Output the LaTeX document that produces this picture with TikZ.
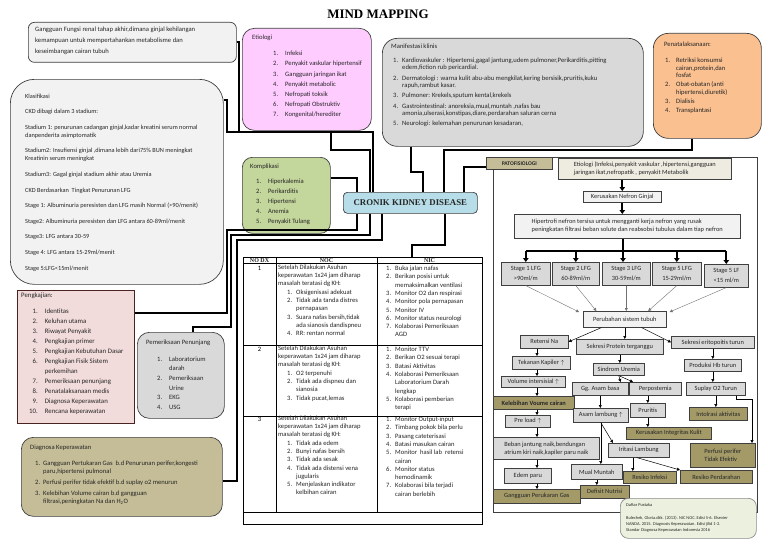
\documentclass[tikz,border=0pt]{standalone}
\usepackage{fontspec}
\setmainfont{Carlito}
\newfontfamily\headfont{Liberation Serif}
\usetikzlibrary{arrows.meta,calc}
\definecolor{ink}{HTML}{262626}
\definecolor{edge}{HTML}{3F3F3F}
\definecolor{lgray}{HTML}{F2F2F2}
\definecolor{mgray}{HTML}{D9D9D9}
\definecolor{pinkbg}{HTML}{F2DCDB}
\definecolor{pinkedge}{HTML}{4A2222}
\definecolor{etpink}{HTML}{FFCCFF}
\definecolor{kgreen}{HTML}{C3D69B}
\definecolor{ckdblue}{HTML}{B7DEE8}
\definecolor{orangebg}{HTML}{FAC090}
\definecolor{khaki}{HTML}{C4BD97}
\definecolor{olive}{HTML}{A39A68}
\definecolor{beige}{HTML}{EEECE1}
\definecolor{dpgreen}{HTML}{EBF1DE}
\newcommand{\itemlist}[2][7pt]{\begin{tabular}[t]{@{}r@{\hspace{#1}}l@{}}#2\end{tabular}}

\begin{document}
\begin{tikzpicture}[x=1pt,y=-1pt,
  box/.style={draw=edge,line width=0.7pt,inner sep=0pt,anchor=north west},
  txt/.style={anchor=north west,align=left,inner sep=0pt,text=ink},
  pbox/.style={draw=edge,line width=0.6pt,fill=mgray,inner sep=1pt,anchor=north west,
               align=center,text=ink,font=\fontsize{6.4}{8}\selectfont},
  obox/.style={pbox,fill=olive},
  head/.style={font=\headfont\bfseries\fontsize{6}{6}\selectfont,text=ink},
  link/.style={line width=1.1pt,black},
  ar/.style={-{Triangle[length=3pt,width=3pt]},line width=0.5pt,black},
  fat/.style={-{Triangle[length=4pt,width=5.5pt]},line width=2pt,black},
  thinar/.style={-{Triangle[length=3pt,width=3pt]},line width=0.4pt,black!55}
]
\fill[white] (0,0) rectangle (768,543);
\useasboundingbox (0,0) rectangle (768,543);

\node[font=\headfont\bfseries\fontsize{13}{13}\selectfont] (title) at (378,14) {MIND MAPPING};

% left column
\node[box,fill=lgray,rounded corners=6pt,minimum width=208,minimum height=40] (defn) at (28,22) {};
\node[txt,font=\fontsize{6.6}{11}\selectfont] (defn-t) at (35,26.5)
  {Gangguan Fungsi renal tahap akhir,dimana ginjal kehilangan\\
   kemampuan untuk mempertahankan metabolisme dan\\
   keseimbangan cairan tubuh};

\node[box,fill=lgray,rounded corners=24pt,minimum width=213,minimum height=205] (klas) at (10,79) {};
\node[txt,font=\fontsize{6.3}{8}\selectfont] (klas-t) at (25,93.5)
  {Klasifikasi\\[7.6pt]
   CKD dibagi dalam 3 stadium:\\[7.6pt]
   Stadium 1: penurunan cadangan ginjal,kadar kreatini serum normal\\
   danpenderita asimptomatik\\[7.6pt]
   Stadium2: Insufiensi ginjal ,dimana lebih dari75\% BUN meningkat\\
   Kreatinin serum meningkat\\[7.6pt]
   Stadium3: Gagal ginjal stadium akhir atau Uremia\\[7.6pt]
   CKD Berdasarkan\ \ Tingkat Penurunan LFG\\[7.6pt]
   Stage 1: Albuminuria peresisten dan LFG masih Normal (>90/menit)\\[7.6pt]
   Stage2: Albuminuria peresisten dan LFG antara 60-89ml/menit\\[7.6pt]
   Stage3: LFG antara 30-59\\[7.6pt]
   Stage 4: LFG antara 15-29ml/menit\\[7.6pt]
   Stage 5:LFG<15ml/menit};

\node[box,fill=pinkbg,draw=pinkedge,minimum width=117,minimum height=133] (peng) at (17,290) {};
\node[txt,font=\fontsize{6.8}{10}\selectfont] (peng-t) at (21,292.5)
  {Pengkajian:\\[6pt]
   \hspace*{8pt}\itemlist{1.&Identitas\\2.&Keluhan utama\\3.&Riwayat Penyakit\\
   4.&Pengkajian primer\\5.&Pengkajian Kebutuhan Dasar\\6.&Pengkajian Fisik Sistem\\
   &perkemihan\\7.&Pemeriksaan penunjang\\8.&Penatalaksanaan medis\\
   9.&Diagnosa Keperawatan\\10.&Rencana keperawatan}};

\node[box,fill=mgray,rounded corners=12pt,minimum width=87,minimum height=86] (pem) at (137,332) {};
\node[txt,font=\fontsize{6.6}{9.6}\selectfont] (pem-t) at (146,339.5)
  {Pemeriksaan Penunjang\\[7.4pt]
   \hspace*{11pt}\itemlist{1.&Laboratorium\\&darah\\2.&Pemeriksaan\\&Urine\\3.&EKG\\4.&USG}};

\node[box,fill=khaki,rounded corners=12pt,minimum width=201,minimum height=79] (diag) at (21,437) {};
\node[txt,font=\fontsize{6.6}{8}\selectfont] (diag-t) at (30,444.5)
  {Diagnosa Keperawatan\\[8pt]
   \hspace*{5pt}\itemlist[3pt]{1.&Gangguan Pertukaran Gas\ \ b.d Penurunan perifer,kongesti\\
   &paru,hipertensi pulmonal\\[3pt]
   2.&Perfusi perifer tidak efektif b.d suplay o2 menurun\\[3pt]
   3.&Kelebihan Volume cairan b.d gangguan\\
   &filtrasi,peningkatan Na dan H\textsubscript{2}O}};

% middle column
\node[box,fill=etpink,rounded corners=12pt,minimum width=129,minimum height=102] (etio) at (242,28) {};
\node[txt,font=\fontsize{6.6}{10.2}\selectfont] (etio-t) at (252,35)
  {Etiologi\\[5.8pt]
   \hspace*{21pt}\itemlist{1.&Infeksi\\2.&Penyakit vaskular hipertensif\\3.&Gangguan jaringan ikat\\
   4.&Penyakit metabolic\\5.&Nefropati toksik\\6.&Nefropati Obstruktiv\\7.&Kongenital/herediter}};

\node[box,fill=kgreen,rounded corners=10pt,minimum width=88,minimum height=76] (komp) at (242,157) {};
\node[txt,font=\fontsize{6.6}{10}\selectfont] (komp-t) at (250,163.5)
  {Komplikasi\\[5pt]
   \hspace*{6pt}\itemlist{1.&Hiperkalemia\\2.&Perikarditis\\3.&Hipertensi\\4.&Anemia\\5.&Penyakit Tulang}};

\node[box,fill=ckdblue,rounded corners=4pt,minimum width=134,minimum height=21,
      font=\headfont\bfseries\fontsize{8.8}{9}\selectfont,text=ink] (ckd) at (343,192) {CRONIK KIDNEY DISEASE};

\node[box,fill=mgray,rounded corners=15pt,minimum width=261,minimum height=108] (mani) at (382,38) {};
\node[txt,font=\fontsize{6.6}{7.6}\selectfont] (mani-t) at (391,43.5)
  {Manifestasi klinis\\[6.4pt]
   \hspace*{2pt}\itemlist[4pt]{1.&Kardiovaskuler : Hipertensi,gagal jantung,udem pulmoner,Perikarditis,pitting\\
   &edem,fiction rub pericardial.\\[2.6pt]
   2.&Dermatologi : warna kulit abu-abu mengkilat,kering bersisik,pruritis,kuku\\
   &rapuh,rambut kasar.\\[2.6pt]
   3.&Pulmoner: Krekels,sputum kental,krekels\\[2.6pt]
   4.&Gastrointestinal: anoreksia,mual,muntah ,nafas bau\\
   &amonia,ulserasi,konstipas,diare,perdarahan saluran cerna\\[2.6pt]
   5.&Neurologi: kelemahan penurunan kesadaran,}};

\node[box,fill=orangebg,rounded corners=15pt,minimum width=108,minimum height=105] (pena) at (653,33) {};
\node[txt,font=\fontsize{6.6}{7.8}\selectfont] (pena-t) at (664,41.5)
  {Penatalaksanaan:\\[8.2pt]
   \hspace*{1pt}\itemlist[6pt]{1.&Retriksi konsumsi\\&cairan,protein,dan\\&fosfat\\[1.2pt]
   2.&Obat-obatan (anti\\&hipertensi,diuretik)\\[1.2pt]3.&Dialisis\\[1.2pt]4.&Transplantasi}};

% table
\node[draw=black,line width=1.2pt,inner sep=0pt,anchor=north west,minimum width=239,minimum height=267] (tbl) at (243,257) {};
\foreach \yy in {263,345,416,512} \draw[line width=1pt] (243,\yy) -- (482,\yy);
\foreach \xx in {276,377} \draw[line width=1pt] (\xx,257) -- (\xx,512);
\node[head] (h-no) at (259.5,260.2) {NO DX};
\node[head] (h-noc) at (326.5,260.2) {NOC};
\node[head] (h-nic) at (429.5,260.2) {NIC};
\node[font=\fontsize{6.6}{8}\selectfont] (no1) at (259.5,268) {1};
\node[font=\fontsize{6.6}{8}\selectfont] (no2) at (259.5,349) {2};
\node[font=\fontsize{6.6}{8}\selectfont] (no3) at (259.5,419) {3};
\node[txt,font=\fontsize{6.6}{8.3}\selectfont] (noc1) at (278,264.5)
  {Setelah Dilakukan Asuhan\\keperawatan 1x24 jam diharap\\masalah teratasi dg KH:\\
   \hspace*{9pt}\itemlist[4pt]{1.&Oksigenisasi adekuat\\2.&Tidak ada tanda distres\\&pernapasan\\
   3.&Suara nafas bersih,tidak\\&ada sianosis dandispneu\\4.&RR: rentan normal}};
\node[txt,font=\fontsize{6.6}{8.3}\selectfont] (nic1) at (386,264.5)
  {\itemlist[4pt]{1.&Buka jalan nafas\\2.&Berikan posisi untuk\\&memaksimalkan ventilasi\\
   3.&Monitor O2 dan respirasi\\4.&Monitor pola pernapasan\\5.&Monitor IV\\
   6.&Monitor status neurologi\\7.&Kolaborasi Pemeriksaan\\&AGD}};
\node[txt,font=\fontsize{6.6}{8.3}\selectfont] (noc2) at (278,345.5)
  {Setelah Dilakukan Asuhan\\keperawatan 1x24 jam diharap\\masalah teratasi dg KH:\\
   \hspace*{9pt}\itemlist[4pt]{1.&O2 terpenuhi\\2.&Tidak ada dispneu dan\\&sianosia\\3.&Tidak pucat,lemas}};
\node[txt,font=\fontsize{6.6}{8.3}\selectfont] (nic2) at (386,345.5)
  {\itemlist[4pt]{1.&Monitor TTV\\2.&Berikan O2 sesuai terapi\\3.&Batasi Aktivitas\\
   4.&Kolaborasi Pemeriksaan\\&Laboratorium Darah\\&lengkap\\5.&Kolaborasi pemberian\\&terapi}};
\node[txt,font=\fontsize{6.6}{8.3}\selectfont] (noc3) at (278,415.5)
  {Setelah Dilakukan Asuhan\\keperawatan 1x24 jam diharap\\masalah teratasi dg KH:\\
   \hspace*{9pt}\itemlist[4pt]{1.&Tidak ada edem\\2.&Bunyi nafas bersih\\3.&Tidak ada sesak\\
   4.&Tidak ada distensi vena\\&jugularis\\5.&Menjelaskan indikator\\&kelbihan cairan}};
\node[txt,font=\fontsize{6.6}{8.3}\selectfont] (nic3) at (386,415.5)
  {\itemlist[4pt]{1.&Monitor Output-input\\2.&Timbang pokok bila perlu\\3.&Pasang cateterisasi\\
   4.&Batasi masukan cairan\\5.&Monitor\ \ hasil lab\ \ retensi\\&cairan\\6.&Monitor status\\
   &hemodinamik\\7.&Kolaborasi bila terjadi\\&cairan berlebih}};

% patofisiologi
\node[draw=edge,line width=1pt,inner sep=0pt,anchor=north west,minimum width=264,minimum height=355] (pframe) at (493,157) {};
\node[box,fill=khaki,minimum width=66,minimum height=12,text=ink,
      font=\bfseries\fontsize{5.6}{6}\selectfont] (plab) at (486,157) {PATOFISIOLOGI};
\node[pbox,fill=beige,align=left,minimum width=173,minimum height=21] (etp) at (558,158)
  {Etiologi (Infeksi,penyakit vaskular ,hipertensi,gangguan\\jaringan ikat,nefropatik , penyakit Metabolik};
\node[pbox,fill=lgray,minimum width=78,minimum height=11] (ker) at (583,191) {Kerusakan Nefron Ginjal};
\node[pbox,fill=lgray,align=left,minimum width=226,minimum height=24] (hip) at (514,214)
  {Hipertrofi nefron tersisa untuk mengganti kerja nefron yang rusak\\
   peningkatan filtrasi beban solute dan reabsobsi tubulus dalam tiap nefron};
\node[pbox,font=\fontsize{6.4}{10}\selectfont,minimum width=49,minimum height=23] (s1) at (501,262) {Stage 1 LFG\\>90ml/m};
\node[pbox,font=\fontsize{6.4}{10}\selectfont,minimum width=47,minimum height=23] (s2) at (552,262) {Stage 2 LFG\\60-89ml/m};
\node[pbox,font=\fontsize{6.4}{10}\selectfont,minimum width=48,minimum height=23] (s3) at (602,262) {Stage 3 LFG\\30-59ml/m};
\node[pbox,font=\fontsize{6.4}{10}\selectfont,minimum width=49,minimum height=23] (s4) at (652,262) {Stage 5 LFG\\15-29ml/m};
\node[pbox,font=\fontsize{6.4}{10}\selectfont,minimum width=44,minimum height=23] (s5) at (704,264) {Stage 5 LF\\<15 ml/m};
\node[pbox,fill=lgray,minimum width=83,minimum height=16] (per) at (583,311) {Perubahan sistem tubuh};
\node[pbox,minimum width=48,minimum height=13] (ret) at (520,335) {Retensi Na};
\node[pbox,minimum width=87,minimum height=15] (sek) at (576,339) {Sekresi Protein terganggu};
\node[pbox,minimum width=83,minimum height=12] (eri) at (671,336) {Sekresi eritopoitis turun};
\node[pbox,minimum width=58,minimum height=13] (tek) at (512,356) {Tekanan Kapiler $\uparrow$};
\node[pbox,minimum width=51,minimum height=12] (sin) at (593,363) {Sindrom Uremia};
\node[pbox,minimum width=57,minimum height=12] (hb) at (684,359) {Produksi Hb turun};
\node[pbox,minimum width=64,minimum height=11] (vol) at (501,376) {Volume intersisial $\uparrow$};
\node[pbox,minimum width=56,minimum height=13] (gg) at (572,382) {Gg. Asam basa};
\node[pbox,minimum width=52,minimum height=13] (pp) at (629,382) {Perpostemia};
\node[pbox,minimum width=59,minimum height=13] (o2) at (686,382) {Suplay O2 Turun};
\node[obox,font=\bfseries\fontsize{6.4}{8}\selectfont,minimum width=81,minimum height=13] (keb) at (493,396) {Kelebihan Voume cairan};
\node[pbox,minimum width=55,minimum height=14] (asl) at (573,408) {Asam lambung $\uparrow$};
\node[pbox,minimum width=35,minimum height=14] (pru) at (630,403) {Pruritis};
\node[obox,minimum width=58,minimum height=13] (int) at (689,407) {Intolrasi aktivitas};
\node[pbox,minimum width=45,minimum height=12] (pre) at (505,415) {Pre load $\uparrow$};
\node[obox,minimum width=85,minimum height=12] (kik) at (626,427) {Kerusakan Integritas Kulit};
\node[pbox,align=left,minimum width=106,minimum height=22] (beb) at (493,437)
  {Beban jantung naik,bendungan\\atrium kiri naik,kapiler paru naik};
\node[pbox,minimum width=61,minimum height=14] (iri) at (608,443) {Iritasi Lambung};
\node[obox,align=left,minimum width=65,minimum height=24] (pf) at (690,443) {Perfusi perifer\\Tidak Efektiv};
\node[pbox,minimum width=47,minimum height=15] (ede) at (504,468) {Edem paru};
\node[pbox,minimum width=51,minimum height=15] (mua) at (571,464) {Mual Muntah};
\node[obox,minimum width=53,minimum height=12] (rin) at (623,471) {Resiko Infeksi};
\node[obox,minimum width=72,minimum height=13] (rpd) at (680,470) {Resiko Perdarahan};
\node[obox,minimum width=87,minimum height=14] (ggas) at (493,489) {Gangguan Perukaran Gas};
\node[obox,minimum width=49,minimum height=13] (dnut) at (580,485) {Defisit Nutrisi};

\node[box,fill=dpgreen,draw=black!45,rounded corners=8pt,minimum width=136,minimum height=40] (dpus) at (620,498) {};
\node[txt,font=\fontsize{4.4}{6.3}\selectfont] (dpus-t) at (626,503)
  {Daftar Pustaka\\[6.5pt]
   Bulechek, Gloria.dkk. (2013). NIC NOC. Edisi 5-6. Elsevier\\
   NANDA. 2015. Diagnosis Keperawatan. Edisi jilid 1-2.\\
   Standar Diagnosa Keperawatan Indonesia 2016};

% patofisiologi arrows
\draw[fat] (ker.north |- etp.south) -- (ker.north);
\draw[fat] (ker.south) -- (ker.south |- hip.north);
\coordinate (fan) at (623,251);
\draw[fat] (hip.south -| fan) -- (fan |- s3.north);
\draw[line width=2pt] (s1.north |- fan) -- (s5.north |- fan);
\foreach \s in {s1,s2,s4,s5} \draw[fat] (\s.north |- fan) -- (\s.north);
\draw[thinar] (s1.south) -- ($(per.north west)+(-4,1)$);
\draw[thinar] (s2.south) -- ($(per.north west)!0.16!(per.north east)$);
\draw[thinar] (s3.south) -- (s3.south |- per.north);
\draw[thinar] (s4.south) -- ($(per.north west)!0.78!(per.north east)$);
\draw[thinar] (s5.south) -- ($(per.north east)+(3,1)$);
\draw[ar] ($(per.south west)!0.22!(per.south east)$) -- (ret.east);
\draw[ar] (per.south) -- (per.south |- sek.north);
\draw[ar] ($(per.south west)!0.7!(per.south east)$) -- (eri.west);
\coordinate (lc) at (537,0);
\foreach \a/\b in {ret/tek,tek/vol,vol/keb,keb/pre,pre/beb,beb/ede,ede/ggas}
  \draw[ar] (\a.south -| lc) -- (\b.north -| lc);
\draw[ar] (sek.south) -- (sek.south |- sin.north);
\draw[ar] (sin.south) -- ($(gg.north east)+(-8,0)$);
\draw[ar] (sin.south) -- ($(pp.north west)+(4,0)$);
\draw[ar] (eri.south) -- (eri.south |- hb.north);
\draw[ar] (hb.south) -- (hb.south |- o2.north);
\draw[ar] (gg.south) -- (gg.south |- asl.north);
\draw[ar] (pru.north |- pp.south) -- (pru.north);
\draw[ar] (o2.south) -- (o2.south |- int.north);
\coordinate (ok) at (752,399);
\draw[ar] ($(o2.south east)+(-9,0)$) |- (ok) -- (ok |- pf.north);
\draw[ar] (pru.south) -- (pru.south |- kik.north);
\draw[ar] (asl.south) -- ($(iri.north west)+(5,0)$);
\draw[ar] (asl.south) -- (asl.south |- mua.north);
\coordinate (ir) at ($(iri.south)+(-6,0)$);
\draw[ar] (ir) -- (ir |- rin.north);
\draw[ar] ($(iri.south)+(-2,0)$) -- (rpd.north west);
\draw[ar] (mua.south) -- (mua.south |- dnut.north);

% links to the centre
\coordinate (d1) at (239,42);
\coordinate (d2) at (373,132);
\draw[link] (defn.east |- d1) -- (d1) |- (d2) -- (d2 |- ckd.north);
\coordinate (l1) at (227,100);
\draw[link] (klas.east |- l1) -- (l1) |- (d2);
\coordinate (e1) at (331,150);
\coordinate (e2) at (370,150);
\draw[link] (etio.south -| e1) -- (e1) -- (e2) -- (e2 |- ckd.north);
\coordinate (k1) at (357,178);
\draw[link] (komp.east |- k1) -- (k1) -- (k1 |- ckd.north);
\coordinate (m1) at (411,172);
\coordinate (m2) at (423,172);
\draw[link] (mani.south -| m1) -- (m1) -- (m2) -- (m2 |- ckd.north);
\coordinate (t1) at (692,150);
\coordinate (t2) at (444,150);
\draw[link] (pena.south -| t1) -- (t1) -- (t2) -- (t2 |- ckd.north);
\coordinate (pl1) at (464,167);
\draw[link] (plab.west |- pl1) -- (pl1) -- (pl1 |- ckd.north);
\coordinate (p1) at (227,313);
\coordinate (q1) at (357,230);
\draw[link] (peng.east |- p1) -- (p1) |- (q1) -- (q1 |- ckd.south);
\coordinate (p2) at (193,327);
\coordinate (p2b) at (231,327);
\coordinate (q2) at (370,235);
\draw[link] (pem.north -| p2) -- (p2) -- (p2b) |- (q2) -- (q2 |- ckd.south);
\coordinate (p3) at (237,481);
\coordinate (q3) at (382,240);
\draw[link] (diag.east |- p3) -- (p3) |- (q3) -- (q3 |- ckd.south);
\coordinate (p4) at (412,245);
\coordinate (q4) at (445,245);
\draw[link] (tbl.north -| p4) -- (p4) -- (q4) -- (q4 |- ckd.south);
\end{tikzpicture}
\end{document}
